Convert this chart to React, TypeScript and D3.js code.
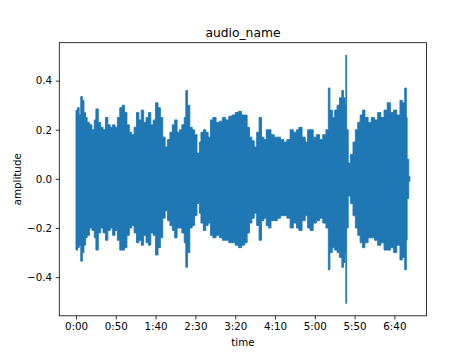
import React from "react";
import * as d3 from "d3";

// envelope of the waveform: time (s), peak max, peak min
const times = [0, 2, 4, 6, 8, 10, 12, 14, 17, 20, 23, 25, 28, 31, 34, 37, 40, 43, 46, 49, 52, 55, 58, 61, 64, 67, 70, 73, 76, 79, 82, 85, 88, 91, 94, 97, 100, 103, 106, 109, 112, 115, 118, 121, 124, 127, 130, 133, 136, 138, 140, 143, 146, 149, 152, 155, 157, 160, 163, 166, 169, 172, 176, 180, 184, 188, 192, 196, 200, 204, 208, 212, 215, 218, 221, 224, 227, 230, 233, 236, 239, 242, 245, 249, 253, 257, 261, 265, 269, 273, 277, 280, 284, 288, 291, 294, 298, 302, 306, 310, 314, 317, 319, 322, 325, 328, 331, 334, 336, 338, 339, 340, 342, 345, 348, 351, 354, 357, 360, 363, 367, 371, 375, 379, 383, 387, 391, 395, 399, 403, 407, 410, 413, 415, 416, 418, 419.5];
const peakMax = [0.28, 0.29, 0.26, 0.335, 0.32, 0.27, 0.25, 0.23, 0.22, 0.2, 0.24, 0.285, 0.23, 0.21, 0.2, 0.25, 0.22, 0.21, 0.22, 0.21, 0.25, 0.29, 0.3, 0.27, 0.22, 0.19, 0.18, 0.21, 0.27, 0.24, 0.28, 0.23, 0.25, 0.27, 0.22, 0.24, 0.31, 0.29, 0.25, 0.17, 0.13, 0.16, 0.19, 0.22, 0.24, 0.19, 0.2, 0.22, 0.25, 0.36, 0.3, 0.21, 0.2, 0.18, 0.105, 0.15, 0.19, 0.2, 0.19, 0.17, 0.24, 0.25, 0.23, 0.235, 0.25, 0.24, 0.255, 0.26, 0.27, 0.275, 0.26, 0.26, 0.21, 0.17, 0.155, 0.13, 0.19, 0.25, 0.17, 0.16, 0.2, 0.2, 0.18, 0.17, 0.17, 0.16, 0.15, 0.16, 0.2, 0.19, 0.2, 0.21, 0.17, 0.15, 0.2, 0.2, 0.17, 0.18, 0.16, 0.18, 0.2, 0.37, 0.28, 0.25, 0.28, 0.3, 0.33, 0.36, 0.33, 0.3, 0.504, 0.2, 0.065, 0.1, 0.15, 0.2, 0.23, 0.26, 0.28, 0.25, 0.23, 0.25, 0.24, 0.27, 0.25, 0.28, 0.31, 0.27, 0.28, 0.26, 0.32, 0.31, 0.37, 0.25, 0.08, 0.01, 0.003];
const peakMin = [-0.29, -0.28, -0.27, -0.335, -0.3, -0.27, -0.24, -0.23, -0.2, -0.21, -0.24, -0.29, -0.22, -0.2, -0.22, -0.25, -0.21, -0.2, -0.23, -0.21, -0.25, -0.29, -0.29, -0.28, -0.23, -0.2, -0.19, -0.22, -0.26, -0.25, -0.27, -0.23, -0.26, -0.27, -0.22, -0.23, -0.31, -0.28, -0.24, -0.16, -0.13, -0.17, -0.19, -0.21, -0.24, -0.2, -0.2, -0.22, -0.26, -0.36, -0.3, -0.2, -0.19, -0.15, -0.1, -0.14, -0.18, -0.21, -0.19, -0.18, -0.23, -0.24, -0.23, -0.24, -0.25, -0.25, -0.26, -0.26, -0.27, -0.28, -0.27, -0.26, -0.22, -0.18, -0.16, -0.14, -0.19, -0.25, -0.17, -0.16, -0.19, -0.2, -0.17, -0.17, -0.16, -0.15, -0.15, -0.16, -0.2, -0.18, -0.2, -0.21, -0.17, -0.15, -0.2, -0.21, -0.18, -0.17, -0.16, -0.18, -0.2, -0.37, -0.3, -0.28, -0.29, -0.3, -0.32, -0.36, -0.34, -0.3, -0.507, -0.2, -0.07, -0.1, -0.15, -0.2, -0.23, -0.26, -0.28, -0.26, -0.24, -0.24, -0.25, -0.27, -0.26, -0.29, -0.29, -0.28, -0.3, -0.27, -0.33, -0.32, -0.37, -0.25, -0.08, -0.01, -0.003];

const xTickValues = [0, 50, 100, 150, 200, 250, 300, 350, 400];
const yTickValues = [-0.4, -0.2, 0.0, 0.2, 0.4];

const fmtTime = (s: number) => `${Math.floor(s / 60)}:${String(s % 60).padStart(2, "0")}`;
const fmtAmp = (v: number) => v.toFixed(1).replace("-", "\u2212");

const W = 474, H = 355;
const margin = { left: 59.3, right: 474 - 426.6, top: 42.7, bottom: 355 - 315.8 };
const FONT = "DejaVu Sans, sans-serif";

const App = () => {
  const ref = React.useRef<SVGSVGElement>(null);

  React.useEffect(() => {
    const svg = d3.select(ref.current);
    svg.selectAll("*").remove();
    const iw = W - margin.left - margin.right;
    const ih = H - margin.top - margin.bottom;

    const tMax = times[times.length - 1];
    const yLo = d3.min(peakMin) as number, yHi = d3.max(peakMax) as number;
    const xScale = d3.scaleLinear([-0.05 * tMax, 1.05 * tMax], [0, iw]);
    const yPad = 0.05 * (yHi - yLo);
    const yScale = d3.scaleLinear([yLo - yPad, yHi + yPad], [ih, 0]);

    const g = svg.append("g").attr("transform", `translate(${margin.left},${margin.top})`);

    const data = times.map((t, i) => ({ t, hi: peakMax[i], lo: peakMin[i] }));
    const area = d3.area<any>()
      .x(d => xScale(d.t))
      .y0(d => yScale(d.lo))
      .y1(d => yScale(d.hi))
      .curve(d3.curveStepAfter);
    g.append("path")
      .datum(data)
      .attr("d", area)
      .attr("fill", "#1f77b4")
      .attr("stroke", "#1f77b4")
      .attr("stroke-width", 0.9)
      .attr("stroke-linejoin", "miter");

    const xAxis = g.append("g")
      .attr("transform", `translate(0,${ih})`)
      .call(d3.axisBottom(xScale).tickValues(xTickValues).tickFormat(d => fmtTime(+d)).tickSize(3.6).tickPadding(3.6));
    const yAxis = g.append("g")
      .call(d3.axisLeft(yScale).tickValues(yTickValues).tickFormat(d => fmtAmp(+d)).tickSize(3.6).tickPadding(3.6));
    [xAxis, yAxis].forEach(a => {
      a.select(".domain").remove();
      a.selectAll("line").attr("stroke", "#000").attr("stroke-width", 0.8);
      a.selectAll("text").attr("font-family", FONT).attr("font-size", 10.3).attr("fill", "#000");
    });

    g.append("rect")
      .attr("width", iw).attr("height", ih)
      .attr("fill", "none").attr("stroke", "#000").attr("stroke-width", 0.8);

    svg.append("text")
      .attr("x", margin.left + iw / 2).attr("y", 37)
      .attr("text-anchor", "middle")
      .attr("font-family", FONT).attr("font-size", 12.3)
      .text("audio_name");
    svg.append("text")
      .attr("x", margin.left + iw / 2).attr("y", 346)
      .attr("text-anchor", "middle")
      .attr("font-family", FONT).attr("font-size", 10.3)
      .text("time");
    svg.append("text")
      .attr("transform", `translate(21,${margin.top + ih / 2}) rotate(-90)`)
      .attr("text-anchor", "middle")
      .attr("font-family", FONT).attr("font-size", 10.3)
      .text("amplitude");
  }, []);

  return <svg ref={ref} width={W} height={H} style={{ position: "absolute", left: 0, top: 0, background: "#fff" }} />;
};

export default App;
